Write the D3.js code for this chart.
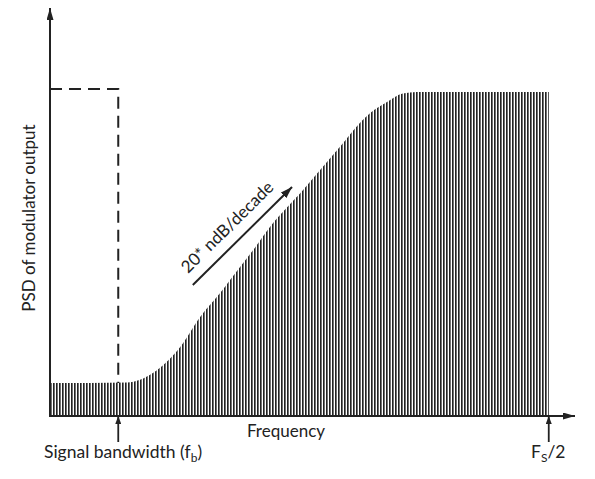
<!DOCTYPE html>
<html>
<head>
<meta charset="utf-8">
<script src="https://cdn.jsdelivr.net/npm/d3@7"></script>
<style>
  body { margin: 0; background: #fff; }
  text { font-family: Lato, "Open Sans", sans-serif; fill: #222; }
</style>
</head>
<body>
<svg id="chart"></svg>
<script>
// noise shaping curve (frequency in % of axis, PSD in % of axis)
const noiseFreq = [0, 14.7, 19.6, 24.8, 28.6, 32.4, 36.2, 38.7, 41.9, 48.2, 54.7, 61, 64.2, 67.2, 69.9, 95]
const noisePsd  = [8.25, 8.4, 10.75, 17.25, 24.75, 30.75, 37.25, 41.5, 47.25, 56.5, 66.5, 75.75, 78.5, 80.6, 81, 81]

// in-band signal (dashed box)
const signalFreq = [0, 13, 13]
const signalPsd  = [81.75, 81.75, 8.25]

const fb = 13
const fsHalf = 95

// slope annotation arrow
const slopeFreq = [27.2, 46.1]
const slopePsd  = [32.75, 57.25]
const slopeLabel = "20* ndB/decade"

const W = 595, H = 479
const svg = d3.select('#chart').attr('width', W).attr('height', H)

const x = d3.scaleLinear().domain([0, 100]).range([50, 575])
const y = d3.scaleLinear().domain([0, 100]).range([416, 16])
const ink = '#222'

const defs = svg.append('defs')

// vertical hatch
const pat = defs.append('pattern')
  .attr('id', 'hatch')
  .attr('patternUnits', 'userSpaceOnUse')
  .attr('x', x(0))
  .attr('width', 3)
  .attr('height', 6)
pat.append('rect').attr('x', 0).attr('y', 0).attr('width', 1.65).attr('height', 6).attr('fill', ink)

function marker(id, len, half) {
  defs.append('marker')
    .attr('id', id)
    .attr('viewBox', `0 ${-half} ${len} ${half*2}`)
    .attr('refX', len).attr('refY', 0)
    .attr('markerWidth', len).attr('markerHeight', half*2)
    .attr('markerUnits', 'userSpaceOnUse')
    .attr('orient', 'auto')
    .append('path')
    .attr('d', `M0,${-half}L${len},0L0,${half}Z`)
    .attr('fill', ink)
}
marker('bigArrow', 12, 3.5)
marker('smallArrow', 8, 3)
marker('slopeArrow', 12, 4)

const noise = noiseFreq.map((f, i) => [f, noisePsd[i]])

// hatched noise area
svg.append('path')
  .datum(noise)
  .attr('d', d3.area()
    .x(d => x(d[0]))
    .y0(y(0))
    .y1(d => y(d[1]))
    .curve(d3.curveMonotoneX))
  .attr('fill', 'url(#hatch)')

// dashed signal box
svg.append('path')
  .datum(signalFreq.map((f, i) => [f, signalPsd[i]]))
  .attr('d', d3.line().x(d => x(d[0])).y(d => y(d[1])))
  .attr('fill', 'none')
  .attr('stroke', ink)
  .attr('stroke-width', 2)
  .attr('stroke-dasharray', '12,7')

// axes
svg.append('line')
  .attr('x1', x(0)).attr('y1', y(0) + 1)
  .attr('x2', x(0)).attr('y2', 8)
  .attr('stroke', ink).attr('stroke-width', 2)
  .attr('marker-end', 'url(#bigArrow)')
svg.append('line')
  .attr('x1', x(0) - 1).attr('y1', y(0))
  .attr('x2', x(100)).attr('y2', y(0))
  .attr('stroke', ink).attr('stroke-width', 2)
  .attr('marker-end', 'url(#bigArrow)')

// fb and Fs/2 pointers
;[fb, fsHalf].forEach(f => {
  svg.append('line')
    .attr('x1', x(f)).attr('y1', y(-6.5))
    .attr('x2', x(f)).attr('y2', y(0))
    .attr('stroke', ink).attr('stroke-width', 1.8)
    .attr('marker-end', 'url(#smallArrow)')
})

// slope annotation
svg.append('line')
  .attr('x1', x(slopeFreq[0])).attr('y1', y(slopePsd[0]))
  .attr('x2', x(slopeFreq[1])).attr('y2', y(slopePsd[1]))
  .attr('stroke', ink).attr('stroke-width', 2)
  .attr('marker-end', 'url(#slopeArrow)')

const ang = Math.atan2(y(slopePsd[1]) - y(slopePsd[0]), x(slopeFreq[1]) - x(slopeFreq[0])) * 180 / Math.PI
svg.append('text')
  .attr('transform', `translate(${x(26.3)},${y(35.5)}) rotate(${ang})`)
  .style('font-size', '17px')
  .text(slopeLabel)

// labels
svg.append('text')
  .attr('x', 286).attr('y', 437)
  .attr('text-anchor', 'middle')
  .style('font-size', '17px')
  .text('Frequency')

svg.append('text')
  .attr('transform', 'translate(35,218) rotate(-90)')
  .attr('text-anchor', 'middle')
  .style('font-size', '17px')
  .text('PSD of modulator output')

const fbLabel = svg.append('text')
  .attr('x', 44).attr('y', 458)
  .style('font-size', '17.5px')
fbLabel.append('tspan').text('Signal bandwidth (f')
fbLabel.append('tspan').attr('dy', 4).style('font-size', '12px').text('b')
fbLabel.append('tspan').attr('dy', -4).text(')')

const fsLabel = svg.append('text')
  .attr('x', 531).attr('y', 458)
  .style('font-size', '17.5px')
fsLabel.append('tspan').text('F')
fsLabel.append('tspan').attr('dy', 4).style('font-size', '12px').text('S')
fsLabel.append('tspan').attr('dy', -4).text('/2')
</script>
</body>
</html>
